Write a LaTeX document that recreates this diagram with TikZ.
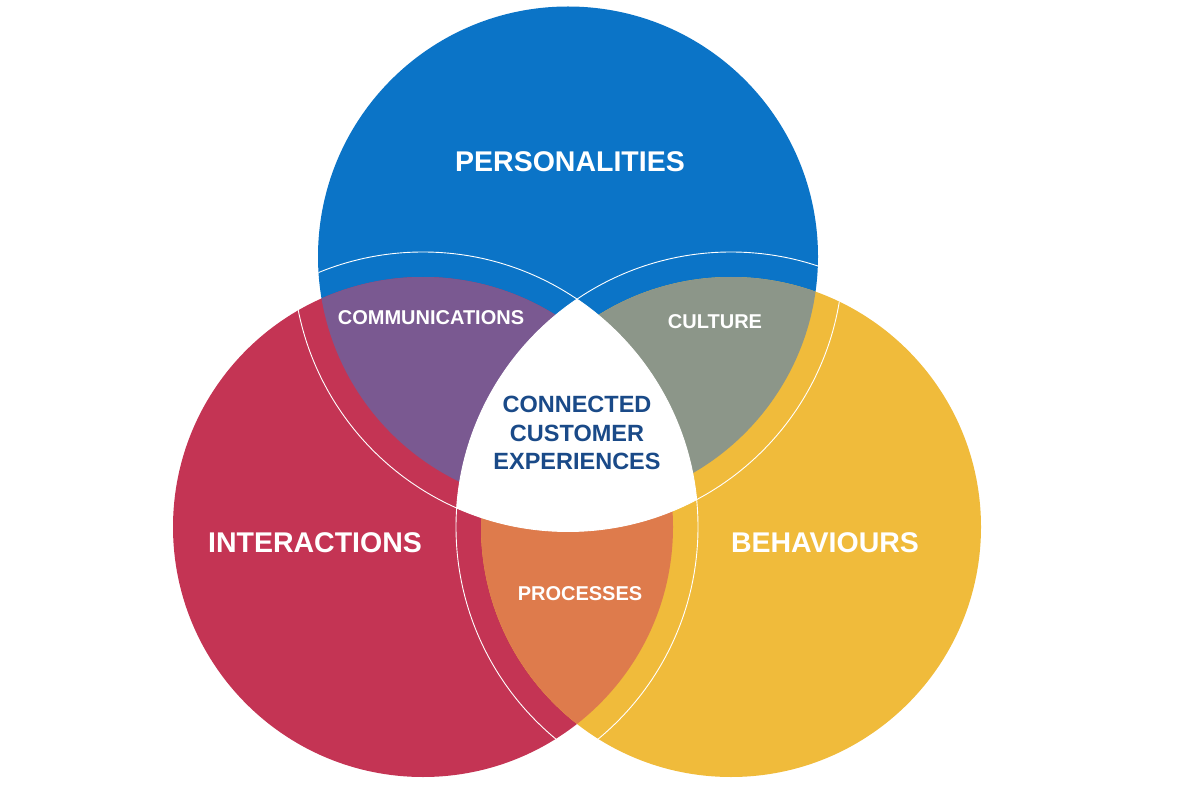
\documentclass[tikz,border=0pt]{standalone}
\usepackage{fontspec}
\setmainfont{Liberation Sans}
\usepackage{tikz}
\definecolor{azul}{HTML}{0B74C7}
\definecolor{rojo}{HTML}{C43454}
\definecolor{amarillo}{HTML}{F0BB3B}
\definecolor{morado}{HTML}{7A5991}
\definecolor{gris}{HTML}{8C9689}
\definecolor{naranja}{HTML}{DE7B4C}
\definecolor{marino}{HTML}{1A4A88}

\begin{document}
\begin{tikzpicture}[x=1pt, y=-1pt,
      grande/.style={text=white, font=\bfseries\fontsize{28.5}{30}\selectfont},
      chica/.style={text=white, font=\bfseries\fontsize{20}{22}\selectfont},
      centro/.style={text=marino, align=center, font=\bfseries\fontsize{23.5}{28.5}\selectfont},
      borde/.style={draw=white, line width=0.9pt}]

    \useasboundingbox (0,0) rectangle (1200,794);
    \coordinate (cb) at (568,256.5);
    \coordinate (cr) at (423,527);
    \coordinate (cy) at (731,527);
    \def\rin{250pt}
    \def\rout{275pt}

    % three circles
    \fill[azul] (cb) circle (\rin);
    \fill[rojo] (cr) circle (\rin);
    \fill[amarillo] (cy) circle (\rin);

    % overlaps
    \begin{scope}
      \clip (cb) circle (\rin);
      \fill[morado] (cr) circle (\rin);
      \fill[gris] (cy) circle (\rin);
    \end{scope}
    \begin{scope}
      \clip (cr) circle (\rin);
      \fill[naranja] (cy) circle (\rin);
    \end{scope}

    % thin white rings
    \begin{scope}
      \clip (cb) circle (\rin) (cr) circle (\rin) (cy) circle (\rin);
      \draw[borde] (cb) circle (\rout);
      \draw[borde] (cr) circle (\rout);
      \draw[borde] (cy) circle (\rout);
    \end{scope}

    % white centre
    \begin{scope}
      \clip (cb) circle (\rout);
      \clip (cr) circle (\rout);
      \fill[white] (cy) circle (\rout);
    \end{scope}

    \node[grande] (pers) at (570,162) {PERSONALITIES};
    \node[grande] (inter) at (315,543) {INTERACTIONS};
    \node[grande] (behav) at (825,543) {BEHAVIOURS};
    \node[chica] (comm) at (431,318) {COMMUNICATIONS};
    \node[chica] (cult) at (715,322) {CULTURE};
    \node[chica] (proc) at (580,594) {PROCESSES};
    \node[centro] (ccx) at (577,433) {CONNECTED\\CUSTOMER\\EXPERIENCES};
  \end{tikzpicture}
\end{document}
